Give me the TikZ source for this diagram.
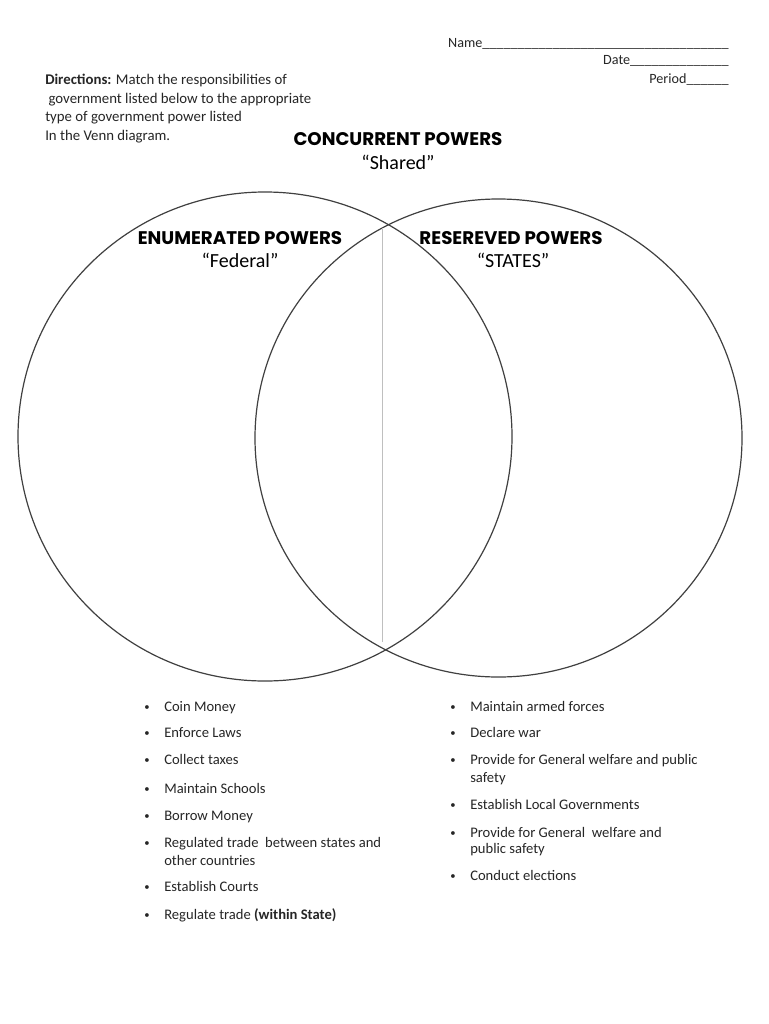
\documentclass[tikz,border=0pt]{standalone}
\usepackage{fontspec}
\setmainfont{Carlito}
\newfontfamily\headfont{Poppins}
\begin{document}
\begin{tikzpicture}[x=0.75pt,y=-0.75pt,
  body/.style={font=\fontsize{10.95}{12}\selectfont, anchor=mid west, inner sep=0pt, text=black!85, yshift=-1.5pt},
  dirs/.style={font=\fontsize{11.1}{13}\selectfont, anchor=mid west, inner sep=0pt, text=black!85, yshift=-1.5pt},
  rbody/.style={font=\fontsize{10.6}{12}\selectfont, anchor=mid east, inner sep=0pt, text=black!85, yshift=-1.5pt},
  head/.style={font=\headfont\bfseries\fontsize{13.7}{15}\selectfont, inner sep=0pt, anchor=mid, yshift=-2.2pt},
  sub/.style={font=\fontsize{15}{17}\selectfont, inner sep=0pt, anchor=mid, yshift=-2.2pt},
  bul/.style={font=\fontsize{8}{10}\selectfont, inner sep=0pt, anchor=center, text=black!85, yshift=-1.5pt},
  ring/.style={draw=black!75, line width=0.9pt},
  divider/.style={draw=black!25, line width=0.6pt}]
\useasboundingbox (0,0) rectangle (768,1024);
\fill[white] (0,0) rectangle (768,1024);

% header fields
\node[rbody] (name) at (729,42) {Name\_\_\_\_\_\_\_\_\_\_\_\_\_\_\_\_\_\_\_\_\_\_\_\_\_\_\_\_\_\_\_\_\_\_\_};
\node[rbody] (date) at (729,59) {Date\_\_\_\_\_\_\_\_\_\_\_\_\_\_};
\node[rbody] (period) at (729,78) {Period\_\_\_\_\_\_};

% directions
\node[dirs] (dir1) at (45,79) {\textbf{Directions:} Match the responsibilities of};
\node[dirs] (dir2) at (45,98) {\ government listed below to the appropriate};
\node[dirs] (dir3) at (45,116) {type of government power listed};
\node[dirs] (dir4) at (45,135) {In the Venn diagram.};

% titles
\node[head] (conc) at (398,139) {CONCURRENT POWERS};
\node[sub] (shared) at (398,163) {“Shared”};
\node[head] (enum) at (240,238) {ENUMERATED POWERS};
\node[sub] (fed) at (240,261) {“Federal”};
\node[head] (res) at (511,238) {RESEREVED POWERS};
\node[sub] (states) at (513,261) {“STATES”};

% Venn circles
\draw[ring] (265,436.5) ellipse[x radius=247, y radius=244.5];
\draw[ring] (498.5,438) ellipse[x radius=243.5, y radius=239];
\coordinate (divtop) at (382,228);
\coordinate (divbot) at (382,642);
\draw[divider] (divtop) -- (divbot);

% left list
\foreach \y/\t [count=\i] in {706/Coin Money, 732/Enforce Laws, 759/Collect taxes, 788/Maintain Schools, 815/Borrow Money, 842/Regulated trade \ between states and, 886/Establish Courts, 914/{Regulate trade \textbf{(within State)}}}{
  \node[bul] (lb\i) at (147,\y) {•};
  \node[body] (lt\i) at (164,\y) {\t};
}
\node[body] (lt6b) at (164,860) {other countries};

% right list
\foreach \y/\t [count=\i] in {706/Maintain armed forces, 732/Declare war, 759/Provide for General welfare and public, 804/Establish Local Governments, 832/Provide for General \ welfare and, 875/Conduct elections}{
  \node[bul] (rb\i) at (453,\y) {•};
  \node[body] (rt\i) at (470,\y) {\t};
}
\node[body] (rt3b) at (470,777) {safety};
\node[body] (rt5b) at (470,848) {public safety};
\end{tikzpicture}
\end{document}
